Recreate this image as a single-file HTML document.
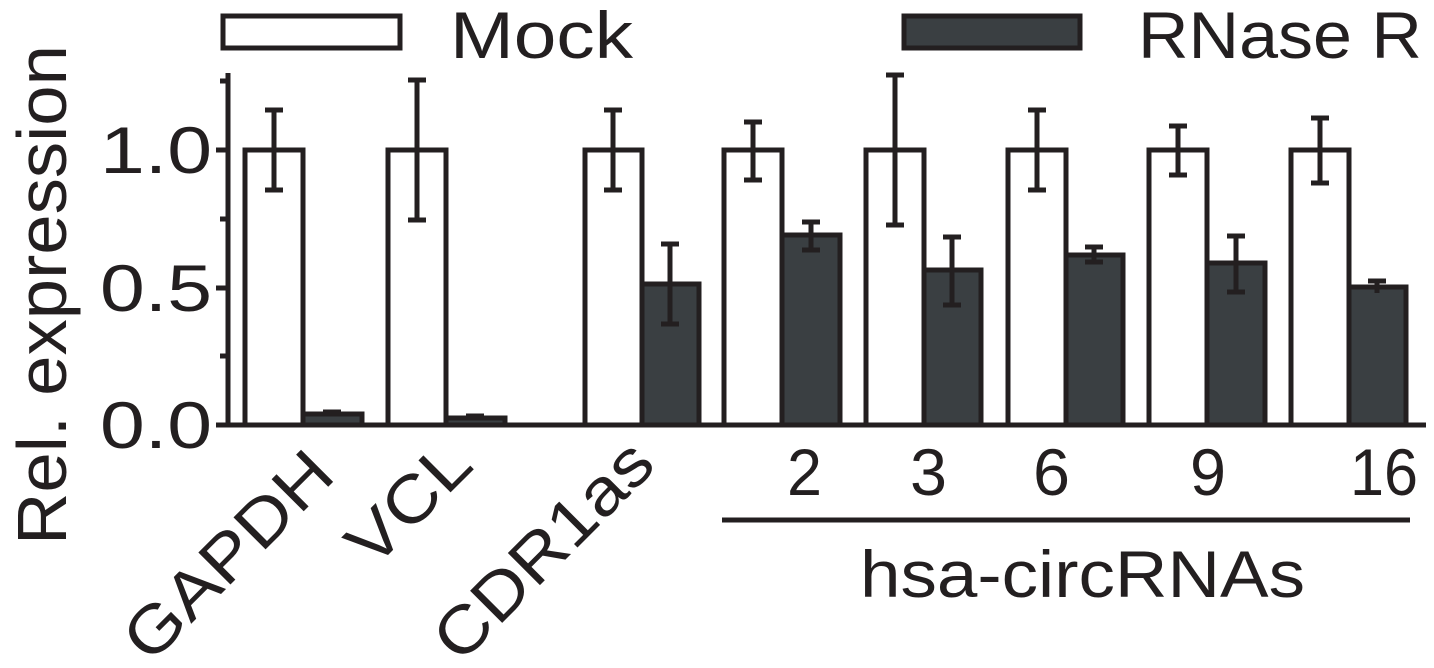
<!DOCTYPE html>
<html><head><meta charset="utf-8"><style>
html,body{margin:0;padding:0;background:#fff;}
svg{display:block;font-family:"Liberation Sans",sans-serif;}
</style></head><body>
<svg width="1434" height="668" viewBox="0 0 1434 668">
<g fill="#231f20" font-size="66">
<!-- legend -->
<rect x="223" y="16" width="177" height="32" fill="#fff" stroke="#231f20" stroke-width="5"/>
<text x="450" y="58" textLength="183" lengthAdjust="spacingAndGlyphs">Mock</text>
<rect x="904" y="16" width="176" height="32" fill="#3a3f42" stroke="#231f20" stroke-width="5"/>
<text x="1138" y="58" textLength="284" lengthAdjust="spacingAndGlyphs">RNase R</text>
<!-- y label -->
<text transform="translate(66,295) rotate(-90)" text-anchor="middle" font-size="70" textLength="500" lengthAdjust="spacingAndGlyphs">Rel. expression</text>
<!-- y ticks labels -->
<text x="100" y="173" textLength="112" lengthAdjust="spacingAndGlyphs">1.0</text>
<text x="100" y="311" textLength="112" lengthAdjust="spacingAndGlyphs">0.5</text>
<text x="100" y="448" textLength="112" lengthAdjust="spacingAndGlyphs">0.0</text>
</g>
<g stroke="#231f20" stroke-width="5" fill="none">
<line x1="228" y1="73" x2="228" y2="427"/>
<line x1="226" y1="425" x2="1426" y2="425"/>
<line x1="216" y1="150" x2="228" y2="150"/>
<line x1="216" y1="288" x2="228" y2="288"/>
<line x1="216" y1="425" x2="228" y2="425"/>
<line x1="220" y1="81" x2="228" y2="81"/>
<line x1="220" y1="219" x2="228" y2="219"/>
<line x1="220" y1="356" x2="228" y2="356"/>
</g>
<g stroke="#231f20" stroke-width="5">
<g fill="#fff">
<rect x="245" y="150" width="58" height="275"/>
<rect x="388" y="150" width="58" height="275"/>
<rect x="585" y="150" width="57" height="275"/>
<rect x="724" y="150" width="58" height="275"/>
<rect x="866" y="150" width="58" height="275"/>
<rect x="1008" y="150" width="58" height="275"/>
<rect x="1149" y="150" width="58" height="275"/>
<rect x="1291" y="150" width="58" height="275"/>
</g>
<g fill="#3a3f42">
<rect x="303" y="414" width="59" height="11"/>
<rect x="446" y="418" width="59" height="7"/>
<rect x="642" y="284" width="57" height="141"/>
<rect x="782" y="235" width="58" height="190"/>
<rect x="924" y="270" width="57" height="155"/>
<rect x="1066" y="255" width="57" height="170"/>
<rect x="1207" y="263" width="58" height="162"/>
<rect x="1349" y="287" width="57" height="138"/>
</g>
</g>
<g stroke="#231f20" stroke-width="5" fill="none">
<path d="M274 110V190M265 110H283M265 190H283"/>
<path d="M417 80V220M408 80H426M408 220H426"/>
<path d="M613 110V190M604 110H622M604 190H622"/>
<path d="M753 122V180M744 122H762M744 180H762"/>
<path d="M895 75V225M886 75H904M886 225H904"/>
<path d="M1037 110V190M1028 110H1046M1028 190H1046"/>
<path d="M1178 126V175M1169 126H1187M1169 175H1187"/>
<path d="M1320 118V183M1311 118H1329M1311 183H1329"/>
<path d="M332 412V416M323 412H341"/>
<path d="M475 416V419M466 416H484"/>
<path d="M670 244V324M661 244H679M661 324H679"/>
<path d="M811 222V250M802 222H820M802 250H820"/>
<path d="M952 237V305M943 237H961M943 305H961"/>
<path d="M1094 247V262M1085 247H1103M1085 262H1103"/>
<path d="M1236 236V292M1227 236H1245M1227 292H1245"/>
<path d="M1377 281V293M1368 281H1386"/>
<line x1="722" y1="520" x2="1410" y2="520"/>
</g>
<g fill="#231f20" font-size="66">
<text x="787" y="495" textLength="35" lengthAdjust="spacingAndGlyphs">2</text>
<text x="910" y="495" textLength="37" lengthAdjust="spacingAndGlyphs">3</text>
<text x="1033" y="495" textLength="37" lengthAdjust="spacingAndGlyphs">6</text>
<text x="1190" y="495" textLength="36" lengthAdjust="spacingAndGlyphs">9</text>
<text x="1350" y="495" textLength="68" lengthAdjust="spacingAndGlyphs">16</text>
<text x="860" y="597" textLength="445" lengthAdjust="spacingAndGlyphs">hsa-circRNAs</text>
<text transform="translate(150,665) rotate(-45)" textLength="265" lengthAdjust="spacingAndGlyphs">GAPDH</text>
<text transform="translate(373,570) rotate(-45)" textLength="145" lengthAdjust="spacingAndGlyphs">VCL</text>
<text transform="translate(460,665) rotate(-45)" textLength="280" lengthAdjust="spacingAndGlyphs">CDR1as</text>
</g>
</svg>
</body></html>
